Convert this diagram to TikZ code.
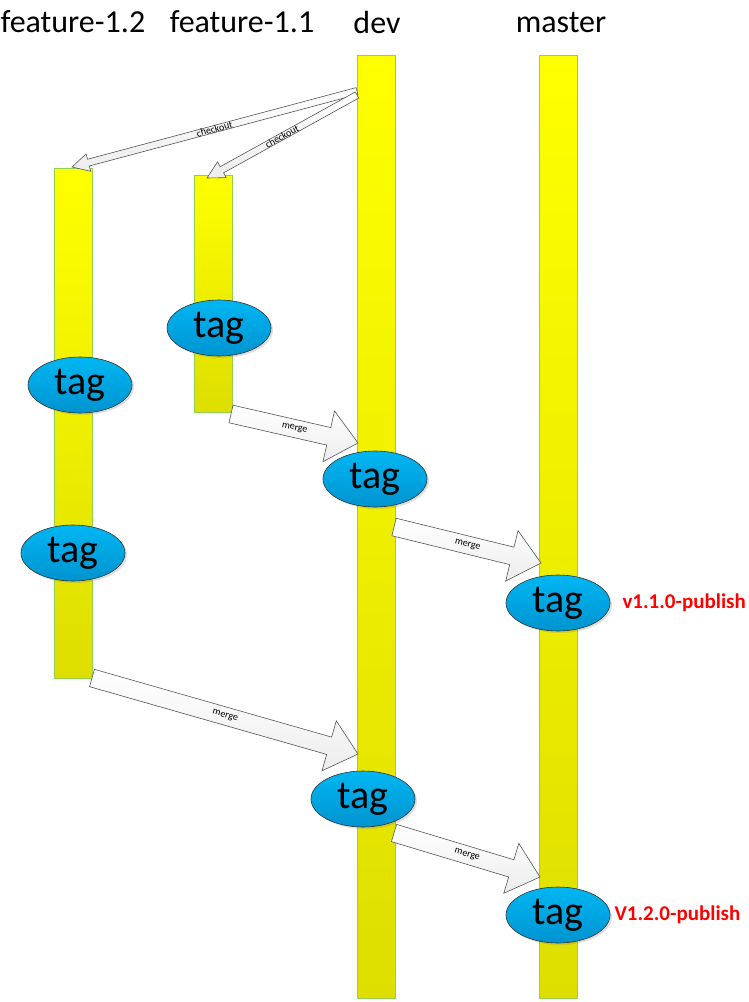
\documentclass[tikz,border=0pt]{standalone}
\usepackage{fontspec}
\setmainfont{Carlito}
\usetikzlibrary{calc, shapes.geometric, shadows}
\definecolor{barTop}{RGB}{255,255,0}
\definecolor{barBottom}{RGB}{222,222,0}
\definecolor{barEdge}{RGB}{146,208,80}
\definecolor{tagTop}{RGB}{0,182,242}
\definecolor{tagBottom}{RGB}{0,148,208}
\definecolor{tagEdge}{RGB}{50,50,50}
\definecolor{arrowEdge}{RGB}{85,85,85}
\definecolor{publishRed}{RGB}{255,0,0}
\tikzset{
  branch/.style={
    rectangle,
    draw = barEdge,
    line width = 0.5pt,
    top color = barTop,
    bottom color = barBottom,
    minimum width = 38pt,
    inner sep = 0pt,
    anchor = north
  },
  branchname/.style={
    font = \fontsize{32}{38}\selectfont
  },
  tagnode/.style={
    ellipse,
    draw = tagEdge,
    line width = 0.6pt,
    top color = tagTop,
    bottom color = tagBottom,
    minimum width = 104pt,
    minimum height = 56pt,
    inner sep = 0pt,
    drop shadow = {shadow xshift=2pt, shadow yshift=-2pt, opacity=0.25},
    font = \fontsize{40}{46}\selectfont
  },
  publish/.style={
    anchor = west,
    text = publishRed,
    font = \fontsize{21}{25}\selectfont\bfseries
  },
  arrowbody/.style={
    draw = arrowEdge,
    line width = 0.6pt,
    top color = white,
    bottom color = black!7
  },
  arrowlabel/.style={
    inner sep = 0pt,
    font = \fontsize{10}{12}\selectfont
  }
}
% block arrow: from, to, shaft half width, head half width, head length, label
\newcommand\blockarrow[6]{%
  \coordinate (bap) at ($(#2)!#5!(#1)$);
  \path[arrowbody] ($(#1)!#3!90:(#2)$) -- ($(bap)!#3!90:(#2)$)
    -- ($(bap)!#4!90:(#2)$) -- (#2) -- ($(bap)!#4!-90:(#2)$)
    -- ($(bap)!#3!-90:(#2)$) -- ($(#1)!#3!-90:(#2)$) -- cycle;
  \path (#1) -- (#2) node[midway, sloped, arrowlabel] {#6};
}
\begin{document}
\begin{tikzpicture}[x=1pt, y=-1pt]
\useasboundingbox (0,0) rectangle (748,1002);

% branch names
\node[branchname] (nameF12) at (73,22) {feature-1.2};
\node[branchname] (nameF11) at (242,22) {feature-1.1};
\node[branchname] (nameDev) at (377,22) {dev};
\node[branchname] (nameMaster) at (561,22) {master};

% branches
\node[branch, minimum height=510pt] (F12) at (73,168) {};
\node[branch, minimum height=237pt] (F11) at (213,175) {};
\node[branch, minimum height=943pt] (Dev) at (376,55) {};
\node[branch, minimum height=943pt] (Master) at (558,55) {};

% arrow ends
\coordinate (co1s) at (357,91);
\coordinate (co1e) at (72,167);
\coordinate (co2s) at (357,95);
\coordinate (co2e) at (207,178);
\coordinate (mg1s) at (231,414);
\coordinate (mg1e) at (358,443);
\coordinate (mg2s) at (394,527);
\coordinate (mg2e) at (541,563);
\coordinate (mg3s) at (92,678);
\coordinate (mg3e) at (358,754);
\coordinate (mg4s) at (394,833);
\coordinate (mg4e) at (540,877);

\blockarrow{co1s}{co1e}{3.5pt}{9pt}{17pt}{checkout}
\blockarrow{co2s}{co2e}{3.5pt}{9pt}{17pt}{checkout}
\blockarrow{mg1s}{mg1e}{9pt}{26pt}{30pt}{merge}
\blockarrow{mg2s}{mg2e}{9pt}{26pt}{30pt}{merge}
\blockarrow{mg3s}{mg3e}{9pt}{26pt}{30pt}{merge}
\blockarrow{mg4s}{mg4e}{9pt}{26pt}{30pt}{merge}

% tags
\node[tagnode] (tagF11) at (219,328) {tag};
\node[tagnode] (tagF12a) at (80,385) {tag};
\node[tagnode] (tagF12b) at (73,553) {tag};
\node[tagnode] (tagDevA) at (375,479) {tag};
\node[tagnode] (tagDevB) at (363,799) {tag};
\node[tagnode] (tagMasterA) at (558,603) {tag};
\node[tagnode] (tagMasterB) at (558,915) {tag};

% releases
\node[publish] (relA) at (619,603) {v1.1.0-publish};
\node[publish] (relB) at (611,915) {V1.2.0-publish};
\end{tikzpicture}
\end{document}
